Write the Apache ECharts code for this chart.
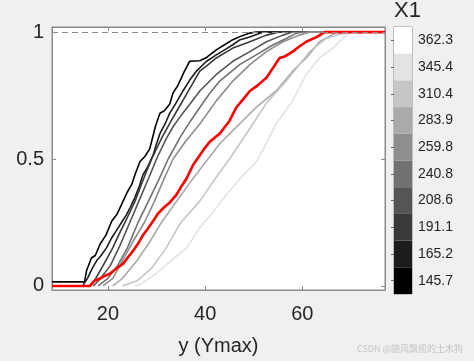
<!DOCTYPE html>
<html><head><meta charset="utf-8">
<script src="https://cdn.jsdelivr.net/npm/echarts@6/dist/echarts.min.js"></script>
<style>html,body{margin:0;padding:0;background:#f0f0f0}#c{width:474px;height:361px}</style>
</head><body><div id="c"></div>
<script>
const xRange=[8.5,77];
const yRange=[-0.016,1.02];
const xTicks=[20,40,60];
const yTicks=[0,0.5,1];
const cbLabels=['145.7','165.2','191.1','208.6','240.8','259.8','283.9','310.4','345.4','362.3'];
const cbColors=['#000000','#1c1c1c','#393939','#555555','#717171','#8e8e8e','#aaaaaa','#c6c6c6','#e3e3e3','#ffffff'];
const cdf0=[[8.5,0.016],[15.2,0.016],[15.6,0.06],[16.6,0.11],[17.4,0.12],[18.4,0.165],[19.6,0.2],[20.8,0.256],[21.8,0.28],[22.8,0.32],[24.0,0.37],[24.9,0.40],[25.6,0.44],[26.6,0.49],[27.6,0.51],[28.6,0.54],[29.8,0.63],[30.7,0.68],[31.6,0.69],[32.7,0.716],[33.4,0.76],[34.4,0.79],[35.6,0.84],[36.8,0.885],[38.9,0.887],[40.3,0.90],[42.3,0.93],[44,0.95],[45.7,0.97],[47.5,0.985],[49.2,0.996],[50.5,1],[77,1]];
const cdf1=[[14.8,0],[15.8,0.03],[16.8,0.07],[17.7,0.10],[18.6,0.12],[19.7,0.15],[20.8,0.19],[21.8,0.22],[22.8,0.25],[23.8,0.28],[24.6,0.31],[25.5,0.346],[26.4,0.39],[27.2,0.437],[28.2,0.47],[29.3,0.515],[30.0,0.56],[30.7,0.6],[31.8,0.64],[32.7,0.68],[34.0,0.72],[35.5,0.77],[36.8,0.81],[38.2,0.846],[40.3,0.885],[42.3,0.91],[44,0.93],[45.7,0.95],[47.2,0.97],[49,0.98],[52,1],[77,1]];
const cdf2=[[16.5,0],[17.5,0.03],[19,0.08],[21,0.15],[22.2,0.2],[23.5,0.25],[25.5,0.33],[26.5,0.38],[27.5,0.43],[29,0.5],[31,0.58],[33,0.65],[34.5,0.7],[36,0.75],[38.9,0.846],[40.5,0.87],[42.3,0.898],[45.7,0.937],[49.2,0.962],[52.6,0.988],[55.3,1],[77,1]];
const cdf3=[[17,0],[18.5,0.03],[20.5,0.08],[22.5,0.16],[24.5,0.25],[26.5,0.34],[28.5,0.43],[30,0.5],[32,0.58],[33.5,0.63],[35,0.67],[37,0.72],[38.9,0.768],[42.3,0.833],[45.7,0.885],[49.2,0.923],[52.6,0.962],[56,0.988],[58,1],[77,1]];
const cdf4=[[18,0],[20,0.03],[22,0.08],[24,0.15],[26.2,0.25],[28.5,0.34],[30.5,0.42],[32.4,0.5],[35,0.59],[37,0.65],[38.9,0.703],[41,0.76],[43,0.807],[47.1,0.872],[50.5,0.91],[53.9,0.949],[56.7,0.975],[58.7,0.995],[60,1],[77,1]];
const cdf5=[[19,0],[21,0.03],[23,0.1],[25,0.17],[27.5,0.25],[29.5,0.33],[31.5,0.42],[33.4,0.5],[36,0.57],[38.9,0.638],[42.3,0.729],[45.7,0.807],[49.2,0.872],[52.6,0.923],[56,0.962],[59.4,0.988],[61.5,1],[77,1]];
const cdf6=[[21,0],[23,0.03],[26,0.1],[28.5,0.17],[31,0.25],[34,0.33],[37,0.41],[40.9,0.508],[43,0.56],[45.7,0.612],[50.5,0.703],[54.6,0.768],[58,0.846],[60.8,0.898],[63.5,0.962],[66.2,0.99],[67,1],[77,1]];
const cdf7=[[23,0],[26,0.02],[29,0.07],[32,0.15],[35,0.25],[38.9,0.334],[42,0.42],[45,0.5],[49.2,0.62],[52.6,0.72],[56.7,0.807],[59.4,0.872],[61.5,0.923],[64.9,0.975],[68.3,0.995],[69,1],[77,1]];
const cdf8=[[25.5,0],[27,0.01],[30,0.05],[33,0.1],[36.2,0.15],[38.9,0.23],[41.6,0.29],[44.4,0.36],[47.1,0.42],[50.5,0.489],[52,0.54],[54.6,0.638],[58,0.729],[60.8,0.833],[63.5,0.898],[66.3,0.937],[68.3,0.975],[70,1],[77,1]];
const cdfRed=[[8.5,0],[16.3,0],[17.2,0.02],[18.4,0.03],[19.4,0.04],[20.4,0.048],[21.8,0.07],[23.1,0.087],[24.2,0.115],[25.2,0.139],[26.3,0.17],[27.2,0.2],[28.2,0.225],[29.3,0.256],[30.3,0.285],[31.4,0.307],[32.8,0.33],[34.1,0.36],[35.2,0.395],[36.2,0.424],[37.5,0.476],[38.9,0.515],[39.8,0.54],[40.9,0.567],[42,0.585],[43,0.6],[44,0.625],[45,0.65],[46.4,0.703],[47.8,0.735],[49.2,0.768],[50.8,0.79],[52.6,0.82],[54,0.86],[55.3,0.898],[56.5,0.905],[58,0.923],[59.5,0.945],[60.8,0.962],[62.9,0.98],[64.6,1],[77,1]];
const grayCdfs=[cdf0,cdf1,cdf2,cdf3,cdf4,cdf5,cdf6,cdf7,cdf8];

const font="'Liberation Sans', Arial, sans-serif";
const axisCol='#8a8a8a';
const txtCol='#262626';
const series=[{
  type:'line',data:[],z:1,silent:true,
  markLine:{symbol:'none',silent:true,label:{show:false},
    lineStyle:{color:'#8a8a8a',type:[6,4],width:1},data:[{yAxis:1}]}
}];
grayCdfs.forEach((d,i)=>series.push({type:'line',data:d,showSymbol:false,z:2,
  lineStyle:{color:cbColors[i],width:1.6},itemStyle:{color:cbColors[i]}}));
series.push({type:'line',data:cdfRed,showSymbol:false,z:3,lineStyle:{color:'#ff0000',width:2.6}});
series.push({type:'bar',xAxisIndex:2,yAxisIndex:2,barCategoryGap:'0%',
  data:cbLabels.map((l,i)=>({value:1,itemStyle:{color:cbColors[i]}}))});

const chart=echarts.init(document.getElementById('c'),null,{renderer:'canvas'});
chart.setOption({
  animation:false,
  backgroundColor:'#f0f0f0',
  title:[
    {text:'X1',left:389,top:-5,textStyle:{fontSize:22,fontWeight:'normal',color:txtCol,fontFamily:font}},
    {text:'CSDN @随风飘摇的土木狗',right:6,bottom:3,textStyle:{fontSize:9,fontWeight:'normal',color:'#c4c4c4',fontFamily:"'Noto Sans CJK SC', sans-serif"}}
  ],
  grid:[
    {left:52,top:27,right:89,bottom:68,show:true,backgroundColor:'#ffffff',borderColor:axisCol,borderWidth:1},
    {left:394,top:27,width:18,height:267,show:true,borderColor:axisCol,borderWidth:1}
  ],
  xAxis:[
    {type:'value',gridIndex:0,min:xRange[0],max:xRange[1],splitLine:{show:false},
     axisLine:{onZero:false,lineStyle:{color:axisCol}},
     axisTick:{inside:true,length:4,customValues:xTicks,lineStyle:{color:axisCol}},
     axisLabel:{customValues:xTicks,fontSize:20,color:txtCol,fontFamily:font,margin:14},
     name:'y (Ymax)',nameLocation:'middle',nameGap:46,nameTextStyle:{fontSize:20,color:txtCol,fontFamily:font}},
    {type:'value',gridIndex:0,position:'top',min:xRange[0],max:xRange[1],splitLine:{show:false},
     axisLine:{onZero:false,lineStyle:{color:axisCol}},
     axisTick:{inside:true,length:4,customValues:xTicks,lineStyle:{color:axisCol}},
     axisLabel:{show:false}},
    {type:'value',gridIndex:1,min:0,max:1,show:false}
  ],
  yAxis:[
    {type:'value',gridIndex:0,min:yRange[0],max:yRange[1],splitLine:{show:false},
     axisLine:{show:true,onZero:false,lineStyle:{color:axisCol}},
     axisTick:{show:true,inside:true,length:4,customValues:yTicks,lineStyle:{color:axisCol}},
     axisLabel:{customValues:yTicks,fontSize:20,color:txtCol,fontFamily:font,margin:8}},
    {type:'value',gridIndex:0,position:'right',min:yRange[0],max:yRange[1],splitLine:{show:false},
     axisLine:{show:true,onZero:false,lineStyle:{color:axisCol}},
     axisTick:{show:true,inside:true,length:4,customValues:yTicks,lineStyle:{color:axisCol}},
     axisLabel:{show:false}},
    {type:'category',gridIndex:1,position:'right',data:cbLabels,
     axisLine:{show:true,lineStyle:{color:axisCol}},
     axisTick:{show:true,inside:true,length:3,alignWithLabel:true,lineStyle:{color:'#666'}},
     axisLabel:{fontSize:14,color:txtCol,fontFamily:font,margin:6}}
  ],
  series:series
});
</script></body></html>
